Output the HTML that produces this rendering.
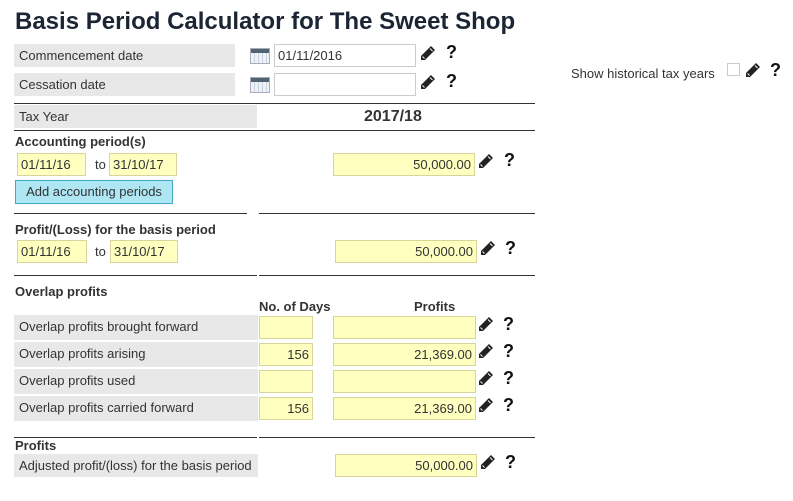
<!DOCTYPE html>
<html><head><meta charset="utf-8"><style>
body{margin:0;width:793px;height:501px;background:#fff;font-family:"Liberation Sans",Arial,sans-serif;color:#333;position:relative;overflow:hidden}
.a{position:absolute}
.g{position:absolute;background:#e8e8e8;font-size:13px;line-height:24px;padding-left:5px;box-sizing:border-box;color:#333}
.i{position:absolute;box-sizing:border-box;border:1px solid #ccc;background:#fff;font-size:13px;line-height:21px;padding:0 3px}
.y{background:#ffffc0;border-color:#d8d49a}
.r{text-align:right}
.h{position:absolute;height:1px;background:#333}
.b{position:absolute;font-weight:bold;font-size:13px}
.p{position:absolute;width:16px;height:16px}
.q{position:absolute;font-weight:bold;font-size:18px;line-height:18px;color:#111}
.cal{position:absolute;width:20px;height:16px;background:repeating-linear-gradient(90deg,#eef1f6 0 3px,#c9d2dd 3px 4px);border:1px solid #aab;box-sizing:border-box}
.cal:before{content:"";position:absolute;left:0;top:0;right:0;height:4px;background:#4f6373}
</style></head><body>
<svg width="0" height="0" style="position:absolute"><defs><symbol id="pen" viewBox="0 0 16 16"><path d="M11 1 L15 5 L5 15 L1 15 L1 11 Z" fill="#222"/><path d="M2.5 11.5 L4.5 13.5" stroke="#fff" stroke-width="1"/><path d="M10 3.5 L12.5 6" stroke="#fff" stroke-width="1"/></symbol></defs></svg>
<div class="a" style="left:15px;top:8px;font-size:24px;font-weight:bold;color:#1b2533;white-space:nowrap">Basis Period Calculator for The Sweet Shop</div>

<div class="g" style="left:14px;top:44px;width:221px;height:23px">Commencement date</div>
<div class="cal" style="left:250px;top:48px"></div>
<div class="i" style="left:274px;top:44px;width:142px;height:23px">01/11/2016</div>
<svg class="p" style="left:420px;top:45px"><use href="#pen"/></svg><div class="q" style="left:446px;top:43px">?</div>

<div class="g" style="left:14px;top:73px;width:221px;height:23px">Cessation date</div>
<div class="cal" style="left:250px;top:77px"></div>
<div class="i" style="left:274px;top:73px;width:142px;height:23px"></div>
<svg class="p" style="left:420px;top:74px"><use href="#pen"/></svg><div class="q" style="left:446px;top:72px">?</div>

<div class="a" style="left:571px;top:66px;font-size:13px">Show historical tax years</div>
<div class="a" style="left:727px;top:63px;width:11px;height:11px;border:1px solid #ccc"></div>
<svg class="p" style="left:745px;top:62px"><use href="#pen"/></svg><div class="q" style="left:770px;top:61px">?</div>

<div class="h" style="left:14px;top:103px;width:521px"></div>
<div class="g" style="left:14px;top:105px;width:243px;height:23px">Tax Year</div>
<div class="a" style="left:364px;top:108px;font-weight:bold;font-size:16px">2017/18</div>
<div class="h" style="left:14px;top:130px;width:521px"></div>

<div class="b" style="left:15px;top:134px">Accounting period(s)</div>
<div class="i y" style="left:17px;top:153px;width:69px;height:23px">01/11/16</div>
<div class="a" style="left:95px;top:157px;font-size:13px">to</div>
<div class="i y" style="left:109px;top:153px;width:68px;height:23px">31/10/17</div>
<div class="i y r" style="left:333px;top:153px;width:142px;height:23px">50,000.00</div>
<svg class="p" style="left:478px;top:153px"><use href="#pen"/></svg><div class="q" style="left:504px;top:151px">?</div>
<div class="a" style="left:15px;top:180px;width:158px;height:24px;box-sizing:border-box;background:#aee6f3;border:1px solid #46a8c0;font-size:13px;line-height:22px;text-align:center">Add accounting periods</div>

<div class="h" style="left:14px;top:213px;width:233px"></div>
<div class="h" style="left:259px;top:213px;width:276px"></div>
<div class="b" style="left:15px;top:222px">Profit/(Loss) for the basis period</div>
<div class="i y" style="left:17px;top:240px;width:70px;height:23px">01/11/16</div>
<div class="a" style="left:95px;top:244px;font-size:13px">to</div>
<div class="i y" style="left:110px;top:240px;width:68px;height:23px">31/10/17</div>
<div class="i y r" style="left:335px;top:240px;width:142px;height:23px">50,000.00</div>
<svg class="p" style="left:480px;top:240px"><use href="#pen"/></svg><div class="q" style="left:505px;top:239px">?</div>

<div class="h" style="left:14px;top:275px;width:243px"></div>
<div class="h" style="left:259px;top:275px;width:276px"></div>
<div class="b" style="left:15px;top:284px">Overlap profits</div>
<div class="b" style="left:259px;top:299px">No. of Days</div>
<div class="b" style="left:414px;top:299px">Profits</div>

<div class="g" style="left:14px;top:315px;width:244px;height:25px">Overlap profits brought forward</div>
<div class="i y" style="left:259px;top:316px;width:54px;height:23px"></div>
<div class="i y" style="left:333px;top:316px;width:143px;height:23px"></div>
<svg class="p" style="left:478px;top:316px"><use href="#pen"/></svg><div class="q" style="left:503px;top:315px">?</div>

<div class="g" style="left:14px;top:342px;width:244px;height:25px">Overlap profits arising</div>
<div class="i y r" style="left:259px;top:343px;width:54px;height:23px">156</div>
<div class="i y r" style="left:333px;top:343px;width:143px;height:23px">21,369.00</div>
<svg class="p" style="left:478px;top:343px"><use href="#pen"/></svg><div class="q" style="left:503px;top:342px">?</div>

<div class="g" style="left:14px;top:369px;width:244px;height:25px">Overlap profits used</div>
<div class="i y" style="left:259px;top:370px;width:54px;height:23px"></div>
<div class="i y" style="left:333px;top:370px;width:143px;height:23px"></div>
<svg class="p" style="left:478px;top:370px"><use href="#pen"/></svg><div class="q" style="left:503px;top:369px">?</div>

<div class="g" style="left:14px;top:396px;width:244px;height:25px">Overlap profits carried forward</div>
<div class="i y r" style="left:259px;top:397px;width:54px;height:23px">156</div>
<div class="i y r" style="left:333px;top:397px;width:143px;height:23px">21,369.00</div>
<svg class="p" style="left:478px;top:397px"><use href="#pen"/></svg><div class="q" style="left:503px;top:396px">?</div>

<div class="h" style="left:14px;top:437px;width:243px"></div>
<div class="h" style="left:259px;top:437px;width:276px"></div>
<div class="b" style="left:15px;top:438px">Profits</div>
<div class="g" style="left:14px;top:454px;width:244px;height:23px">Adjusted profit/(loss) for the basis period</div>
<div class="i y r" style="left:335px;top:454px;width:142px;height:23px">50,000.00</div>
<svg class="p" style="left:480px;top:454px"><use href="#pen"/></svg><div class="q" style="left:505px;top:453px">?</div>
</body></html>
